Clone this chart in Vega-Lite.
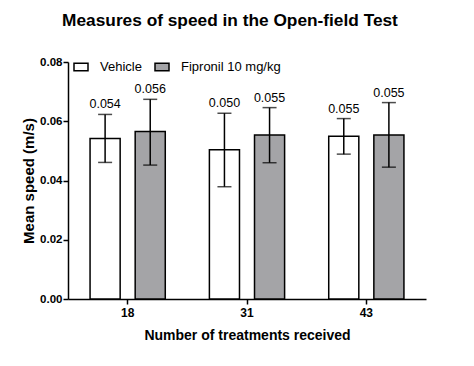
{
  "$schema": "https://vega.github.io/schema/vega-lite/v6.json",
  "width": 358,
  "height": 237,
  "autosize": {"type": "none"},
  "padding": {"left": 68, "top": 62, "right": 48, "bottom": 67},
  "background": "white",
  "title": {
    "text": "Measures of speed in the Open-field Test",
    "font": "Liberation Sans",
    "fontSize": 17.3,
    "fontWeight": "bold",
    "color": "black",
    "anchor": "middle",
    "dx": -17,
    "offset": 27
  },
  "data": {
    "values": [
      {"group": "18", "treatment": "Vehicle", "mean": 0.0542, "lower": 0.0461, "upper": 0.0623, "label": "0.054"},
      {"group": "18", "treatment": "Fipronil 10 mg/kg", "mean": 0.0565, "lower": 0.0452, "upper": 0.0674, "label": "0.056"},
      {"group": "31", "treatment": "Vehicle", "mean": 0.0504, "lower": 0.0379, "upper": 0.0627, "label": "0.050"},
      {"group": "31", "treatment": "Fipronil 10 mg/kg", "mean": 0.0554, "lower": 0.0460, "upper": 0.0646, "label": "0.055"},
      {"group": "43", "treatment": "Vehicle", "mean": 0.0549, "lower": 0.0489, "upper": 0.0609, "label": "0.055"},
      {"group": "43", "treatment": "Fipronil 10 mg/kg", "mean": 0.0554, "lower": 0.0445, "upper": 0.0663, "label": "0.055"}
    ]
  },
  "encoding": {
    "x": {
      "field": "group",
      "type": "nominal",
      "sort": ["18", "31", "43"],
      "scale": {"paddingInner": 0, "paddingOuter": 0},
      "axis": {
        "title": "Number of treatments received",
        "labelAngle": 0,
        "labelFontWeight": "bold",
        "labelFontSize": 12,
        "labelPadding": 3,
        "titleFontSize": 14,
        "titleFontWeight": "bold",
        "titlePadding": 10
      }
    },
    "xOffset": {
      "field": "treatment",
      "type": "nominal",
      "scale": {"domain": ["Vehicle", "Fipronil 10 mg/kg"], "paddingInner": 0.333, "paddingOuter": 0.489}
    }
  },
  "layer": [
    {
      "mark": {"type": "bar", "stroke": "black", "strokeWidth": 1.5},
      "encoding": {
        "y": {
          "field": "mean",
          "type": "quantitative",
          "scale": {"domain": [0, 0.08]},
          "axis": {
            "title": "Mean speed (m/s)",
            "values": [0, 0.02, 0.04, 0.06, 0.08],
            "format": ".2f",
            "labelFontWeight": "bold",
            "labelFontSize": 11.5,
            "labelPadding": 1,
            "titleFontSize": 15,
            "titleFontWeight": "bold",
            "titlePadding": 3
          }
        },
        "fill": {
          "field": "treatment",
          "type": "nominal",
          "scale": {"domain": ["Vehicle", "Fipronil 10 mg/kg"], "range": ["white", "#a4a4a7"]},
          "legend": {
            "title": null,
            "orient": "none",
            "direction": "horizontal",
            "legendX": 5,
            "legendY": -3,
            "padding": 0,
            "symbolType": "M-1,-0.55H1V0.55H-1Z",
            "symbolSize": 196,
            "symbolStrokeColor": "black",
            "symbolStrokeWidth": 1.5,
            "labelFontSize": 13,
            "labelOffset": 11,
            "columnPadding": 10,
            "labelColor": "black"
          }
        }
      }
    },
    {
      "mark": {"type": "rule", "color": "black", "strokeWidth": 1.5},
      "encoding": {
        "y": {"field": "lower", "type": "quantitative"},
        "y2": {"field": "upper"}
      }
    },
    {
      "mark": {"type": "tick", "color": "black", "size": 14, "thickness": 1.5, "orient": "horizontal"},
      "encoding": {"y": {"field": "upper", "type": "quantitative"}}
    },
    {
      "mark": {"type": "tick", "color": "black", "size": 14, "thickness": 1.5, "orient": "horizontal"},
      "encoding": {"y": {"field": "lower", "type": "quantitative"}}
    },
    {
      "mark": {"type": "text", "baseline": "bottom", "dy": -3, "fontSize": 12.5, "color": "black"},
      "encoding": {
        "y": {"field": "upper", "type": "quantitative"},
        "text": {"field": "label"}
      }
    }
  ],
  "config": {
    "font": "Liberation Sans",
    "view": {"stroke": null},
    "axis": {
      "grid": false,
      "domainColor": "black",
      "domainWidth": 1.5,
      "tickColor": "black",
      "tickWidth": 1.5,
      "tickSize": 5,
      "labelColor": "black",
      "titleColor": "black"
    }
  }
}
